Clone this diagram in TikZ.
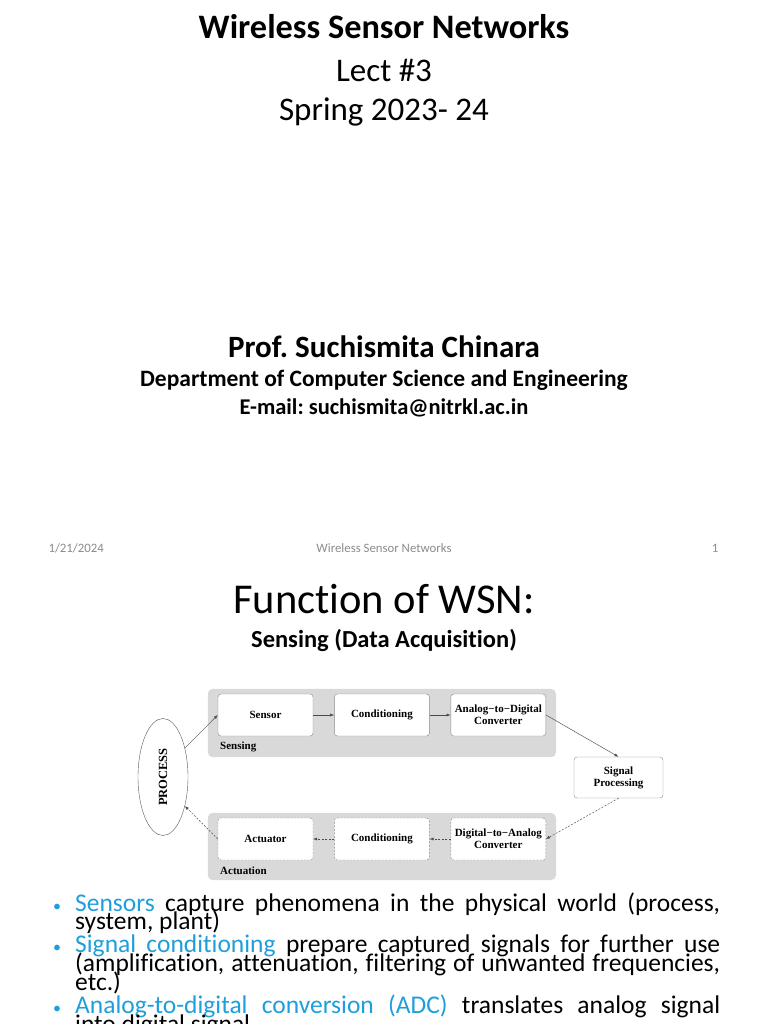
\documentclass[tikz,border=0pt]{standalone}
\usepackage{fontspec}
\setmainfont{Carlito}[Ligatures=NoCommon]
\newfontfamily\diagfont{Liberation Serif}
\usepackage{enumitem}
\usepackage{tikz}
\usetikzlibrary{arrows.meta,positioning,fit,shapes.geometric,backgrounds}
\definecolor{slideblue}{HTML}{1E9FDB}
\definecolor{footgray}{HTML}{8C8C8C}
\definecolor{panelgray}{HTML}{D9D9D9}
\definecolor{boxline}{HTML}{8A8A8A}
\definecolor{arrowgray}{HTML}{4A4A4A}
\frenchspacing

\begin{document}
\begin{tikzpicture}[x=1pt,y=-1pt,
    stage/.style={draw=boxline,fill=white,rounded corners=3pt,minimum width=95pt,minimum height=42pt,
      align=center,inner sep=1pt,font=\diagfont\bfseries\fontsize{11}{12}\selectfont},
    dstage/.style={stage,dash pattern=on 2pt off 1.5pt},
    panel/.style={fill=panelgray,rounded corners=5pt,inner xsep=10pt,inner ysep=5pt},
    panellbl/.style={anchor=west,inner sep=0pt,font=\diagfont\bfseries\fontsize{11}{12}\selectfont},
    flow/.style={-{Latex[length=4pt,width=3pt]},color=arrowgray,line width=0.45pt},
    dflow/.style={flow,dash pattern=on 2pt off 1.5pt},
    footer/.style={anchor=base,color=footgray,font=\fontsize{12.8}{14}\selectfont}]
  \useasboundingbox (0,0) rectangle (768,1024);
  \clip (0,0) rectangle (768,1024);
  \begin{scope}[on background layer]
    \fill[white] (0,0) rectangle (768,1024);
  \end{scope}

  % first slide
  \node[anchor=base,font=\bfseries\fontsize{34.3}{37}\selectfont] (title) at (384,39) {Wireless Sensor Networks};
  \node[anchor=base,font=\fontsize{33}{36}\selectfont] (lect) at (384,82) {Lect \#3};
  \node[anchor=base,font=\fontsize{33}{36}\selectfont] (term) at (384,121) {Spring 2023- 24};
  \node[anchor=base,font=\bfseries\fontsize{31}{34}\selectfont] (prof) at (384,357) {Prof. Suchismita Chinara};
  \node[anchor=base,font=\bfseries\fontsize{23.5}{26}\selectfont] (dept) at (384,386) {Department of Computer Science and Engineering};
  \node[anchor=base,font=\bfseries\fontsize{22.5}{25}\selectfont] (mail) at (384,414) {E-mail: suchismita@nitrkl.ac.in};
  \node[footer,anchor=base west] (date) at (45,552) {1/21/2024};
  \node[footer] (foottitle) at (384,552) {Wireless Sensor Networks};
  \node[footer,anchor=base east] (pageno) at (722,552) {1};

  % second slide
  \node[anchor=base,font=\fontsize{42.5}{46}\selectfont] (fn) at (384,613) {Function of WSN:};
  \node[anchor=base,font=\bfseries\fontsize{24.5}{27}\selectfont] (sub) at (384,647) {Sensing (Data Acquisition)};

  \node[stage] (sensor) at (265.5,715) {Sensor};
  \node[stage,right=21pt of sensor] (cond) {Conditioning};
  \node[stage,right=21pt of cond] (adc) {Analog−to−Digital\\Converter};
  \node[panellbl] (senselbl) at (220,747) {Sensing};
  \node[dstage] (actuator) at (265.5,839) {Actuator};
  \node[dstage,right=21pt of actuator] (dcond) {Conditioning};
  \node[dstage,right=21pt of dcond] (dac) {Digital−to−Analog\\Converter};
  \node[panellbl] (actlbl) at (220,871) {Actuation};
  \node[stage,minimum width=89pt,minimum height=41pt] (sigproc) at (618.5,777.5) {Signal\\Processing};
  \node[draw=black!65,ellipse,minimum width=50pt,minimum height=117pt,inner sep=0pt,
    font=\diagfont\bfseries\fontsize{12.5}{13}\selectfont] (process) at (163,777) {\rotatebox{90}{PROCESS}};
  \begin{scope}[on background layer]
    \node[panel,fit=(sensor)(adc)(senselbl)] (sensing) {};
    \node[panel,fit=(actuator)(dac)(actlbl)] (actuation) {};
  \end{scope}

  \draw[flow] (process.53) -- (sensor.west);
  \draw[flow] (sensor) -- (cond);
  \draw[flow] (cond) -- (adc);
  \draw[flow] (adc.east) -- (sigproc.north);
  \draw[dflow] (sigproc.south) -- (dac.east);
  \draw[dflow] (dac) -- (dcond);
  \draw[dflow] (dcond) -- (actuator);
  \draw[dflow] (actuator.west) -- (process.-53);

  \node[anchor=north west,text width=672pt,align=justify,inner sep=0pt,font=\fontsize{25.5}{18.8}\selectfont] (bullets) at (48,892)
  {\lineskiplimit=-100pt\hyphenpenalty=10000
  \begin{itemize}[label={\textcolor{slideblue}{\fontsize{16}{18}\selectfont•}},leftmargin=27pt,labelsep=14pt,
      topsep=0pt,partopsep=0pt,parsep=0pt,itemsep=4.3pt]
    \item \textcolor{slideblue}{Sensors} capture phenomena in the physical world (process,\linebreak system, plant)
    \item \textcolor{slideblue}{Signal conditioning} prepare captured signals for further use\linebreak (amplification, attenuation, filtering of unwanted frequencies,\linebreak etc.)
    \item \textcolor{slideblue}{Analog-to-digital conversion (ADC)} translates analog signal\linebreak into digital signal
  \end{itemize}};
\end{tikzpicture}
\end{document}
